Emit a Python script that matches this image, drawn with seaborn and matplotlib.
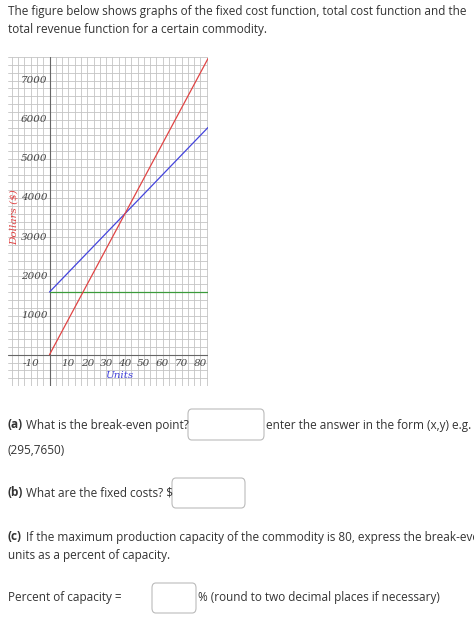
import numpy as np
import pandas as pd
import matplotlib.pyplot as plt
import seaborn as sns
from matplotlib.patches import FancyBboxPatch

units = [0, 84]
fixed_cost = [1600, 1600]
total_cost = [1600, 5800]
revenue = [0, 7560]

x_ticks = [-10, 10, 20, 30, 40, 50, 60, 70, 80]
y_ticks = [1000, 2000, 3000, 4000, 5000, 6000, 7000]

sns.set_style("white")
plt.rcParams['font.family'] = ['Open Sans', 'DejaVu Sans']

fig = plt.figure(figsize=(4.74, 6.17), dpi=100)
W, H = 474, 617
ax = fig.add_axes([8 / W, 1 - 386 / H, 200 / W, 329 / H])

df = pd.DataFrame({"x": units * 3,
                   "y": fixed_cost + total_cost + revenue,
                   "s": ["fixed"] * 2 + ["total"] * 2 + ["rev"] * 2})
sns.lineplot(data=df, x="x", y="y", hue="s", ax=ax, legend=False,
             palette={"fixed": "#3a9a3a", "total": "#4444dd", "rev": "#e04444"},
             linewidth=0.9)

ax.set_xlim(-22, 84)
ax.set_ylim(-800, 7600)
for v in np.arange(-20, 85, 10 / 3):
    ax.axvline(v, color="#c4c4c4", lw=0.6, zorder=0)
for v in np.arange(-800, 7601, 200):
    ax.axhline(v, color="#c4c4c4", lw=0.6, zorder=0)
ax.axvline(0, color="#666666", lw=0.8, zorder=1)
ax.axhline(0, color="#666666", lw=0.8, zorder=1)
ax.set_xticks([])
ax.set_yticks([])
ax.set_xlabel("")
ax.set_ylabel("")
for s in ax.spines.values():
    s.set_visible(False)
for t in x_ticks:
    ax.text(t, -120, str(t), ha="center", va="top", fontsize=7.5,
            style="italic", family="DejaVu Serif", color="#444444")
for t in y_ticks:
    ax.text(-1, t, str(t), ha="right", va="center", fontsize=7.5,
            style="italic", family="DejaVu Serif", color="#444444")
ax.text(37, -420, "Units", ha="center", va="top", fontsize=7.5, style="italic",
        family="DejaVu Serif", color="#4444dd")
ax.text(-19, 3500, "Dollars ($)", rotation=90, ha="center", va="center", fontsize=7.5,
        style="italic", family="DejaVu Serif", color="#e04444")

def t(x, y, s, **kw):
    fig.text(x / W, 1 - y / H, s, va="center", fontsize=8.5, color="#333333", **kw)

def box(x0, y0, x1, y1):
    fig.patches.append(FancyBboxPatch((x0 / W, 1 - y1 / H), (x1 - x0) / W, (y1 - y0) / H,
                                      boxstyle="round,pad=0,rounding_size=0.008",
                                      transform=fig.transFigure, fc="white",
                                      ec="#bbbbbb", lw=0.8))

t(8, 12, "The figure below shows graphs of the fixed cost function, total cost function and the")
t(8, 30, "total revenue function for a certain commodity.")
t(8, 425, "(a)", fontweight="bold")
t(26, 425, "What is the break-even point?")
box(188, 409, 264, 440)
t(266, 425, "enter the answer in the form (x,y) e.g.")
t(8, 450, "(295,7650)")
t(8, 493, "(b)", fontweight="bold")
t(26, 493, "What are the fixed costs? $")
box(172, 478, 245, 508)
t(8, 537, "(c)", fontweight="bold")
t(26, 537, "If the maximum production capacity of the commodity is 80, express the break-even")
t(8, 555, "units as a percent of capacity.")
t(8, 598, "Percent of capacity =")
box(152, 583, 196, 613)
t(198, 598, "% (round to two decimal places if necessary)")

fig.savefig("out.png", dpi=100)
